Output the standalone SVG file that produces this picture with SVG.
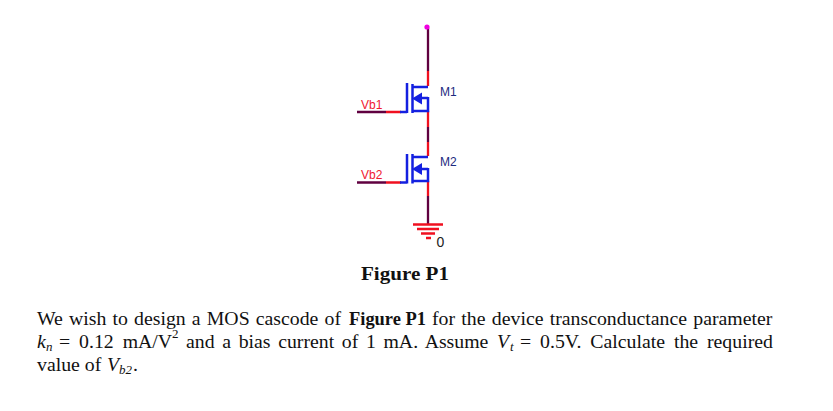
<svg xmlns="http://www.w3.org/2000/svg" width="833" height="411" viewBox="0 0 833 411">
<style>
.w{fill:none;stroke-width:2.300}
.d{stroke:#600040}.r{stroke:#f01020}.b{stroke:#1420e0}
.bb{stroke-width:2.500}
.s{font-family:"Liberation Sans",Arial,sans-serif;font-size:12px}
.z{font-size:14px}
.t{font-family:"Liberation Serif","Times New Roman",serif;font-size:19.8px;fill:#111}
.i{font-style:italic}
.sub{font-size:13px;font-style:italic}
.sup{font-size:13px}
.sb{font-weight:bold;font-size:19px}
</style>
<rect width="833" height="411" fill="#fff"/>
<g id="connectors">
<path class="w d" d="M428 28V71M428 127V142M428 196V224M357 112H386M357 182.500H386"/>
<path class="w r" d="M428 71V86M428 111V127M428 142V156M428 181V196M386 112H401M386 182.500H401"/>
</g>
<g id="vdd"><circle cx="427" cy="27" r="2.600" fill="#f000e0"/></g>
<g id="M1">
<path class="w b bb" d="M400 112H407M407 83V113M412.500 84V113M412 87H428M428 98H420M428 97V111H412"/>
<path d="M412 98.500L422 92.500V104.500Z" fill="#1420e0"/>
<text class="s" x="440" y="96" fill="#1c2a80">M1</text>
</g>
<g id="M2">
<path class="w b bb" d="M400 182.500H407M407 154V183.500M412.500 154V183.500M412 157H428M428 169H420M428 168V181H412"/>
<path d="M412 169L422 163V175Z" fill="#1420e0"/>
<text class="s" x="440" y="166" fill="#1c2a80">M2</text>
</g>
<g id="Vb1"><text class="s" x="361" y="109" fill="#f01830">Vb1</text></g>
<g id="Vb2"><text class="s" x="361" y="178.500" fill="#f01830">Vb2</text></g>
<g id="ground">
<path class="w r" d="M413 224.500H443M417 229H439M421 233.500H435M426 238H431"/>
<text class="s z" x="436.500" y="246.500" fill="#222">0</text>
</g>
<text x="361" y="280" textLength="88" lengthAdjust="spacingAndGlyphs" font-family="Liberation Serif,serif" font-weight="bold" font-size="19.500" fill="#111">Figure P1</text>
<text class="t" x="37" y="325" word-spacing="1.200">We wish to design a MOS cascode of</text>
<text class="t sb" x="349" y="325" textLength="77" lengthAdjust="spacingAndGlyphs">Figure P1</text>
<text class="t" x="432" y="325" word-spacing="1.350">for the device transconductance parameter</text>
<text class="t i" x="37" y="348">k</text><text class="t sub" x="46" y="351">n</text>
<text class="t" x="59" y="348" word-spacing="4">= 0.12 mA/V</text>
<text class="t sup" x="172" y="338">2</text>
<text class="t" x="186" y="348" word-spacing="2.700">and a bias current of 1 mA. Assume</text>
<text class="t i" x="497" y="348">V</text><text class="t sub" x="510" y="351">t</text>
<text class="t" x="520" y="348" word-spacing="3.950">= 0.5V. Calculate the required</text>
<text class="t" x="37" y="371">value of</text>
<text class="t i" x="107" y="371">V</text><text class="t sub" x="119" y="374">b2</text><text class="t" x="133" y="371">.</text>
</svg>
